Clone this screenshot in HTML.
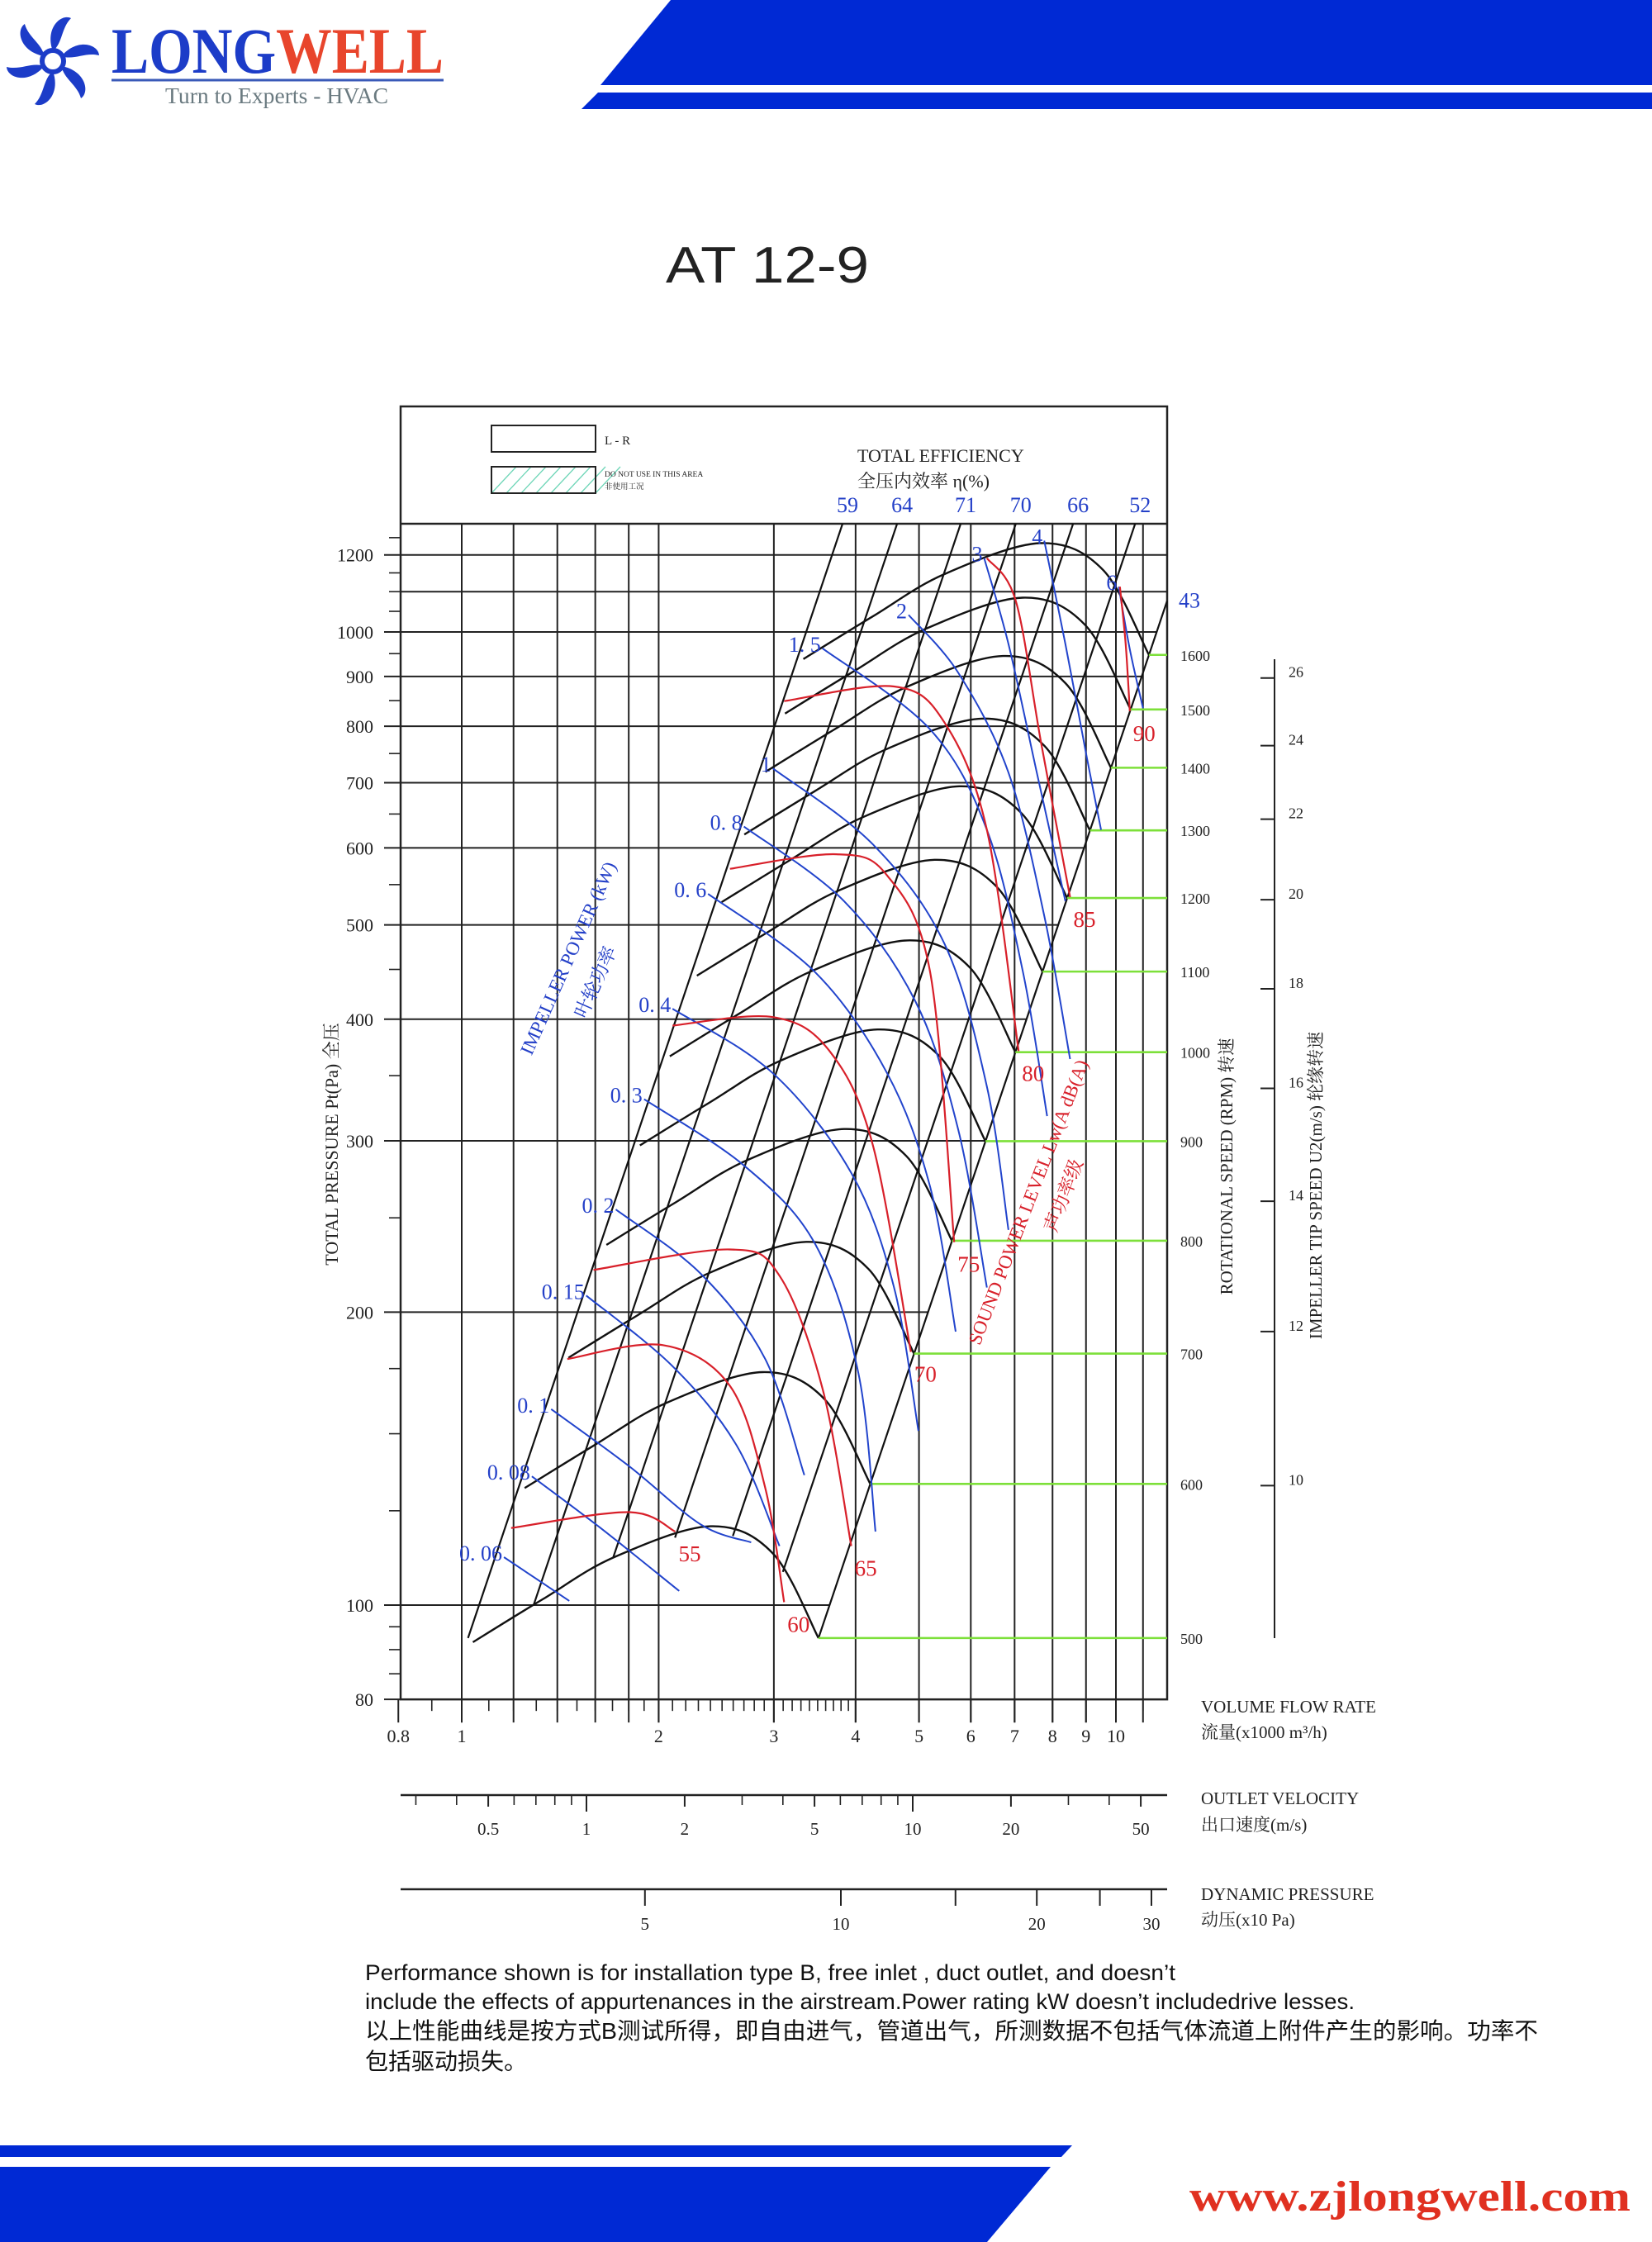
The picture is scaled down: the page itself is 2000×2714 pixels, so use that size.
<!DOCTYPE html>
<html><head><meta charset="utf-8"><title>AT 12-9</title>
<style>
html,body{margin:0;padding:0;background:#fff;}
svg{display:block;}
.ser{font-family:"Liberation Serif","Noto Serif CJK SC",serif;}
.san{font-family:"Liberation Sans","Noto Sans CJK SC",sans-serif;}
</style></head>
<body>
<svg id="page" xmlns="http://www.w3.org/2000/svg" width="2000" height="2714" viewBox="0 0 2000 2714">
  <!-- header -->
  <g>
    <polygon points="812,0 2000,0 2000,103 727,103" fill="#0029d4"/>
    <polygon points="724,112 2000,112 2000,132 704,132" fill="#0029d4"/>
    <g transform="translate(64,74)">
      <g fill="#1c3cc8">
        <path d="M0,-12 C-10,-40 10,-58 22,-52 C10,-40 12,-22 0,-12Z" transform="rotate(0)"/>
        <path d="M0,-12 C-10,-40 10,-58 22,-52 C10,-40 12,-22 0,-12Z" transform="rotate(60)"/>
        <path d="M0,-12 C-10,-40 10,-58 22,-52 C10,-40 12,-22 0,-12Z" transform="rotate(120)"/>
        <path d="M0,-12 C-10,-40 10,-58 22,-52 C10,-40 12,-22 0,-12Z" transform="rotate(180)"/>
        <path d="M0,-12 C-10,-40 10,-58 22,-52 C10,-40 12,-22 0,-12Z" transform="rotate(240)"/>
        <path d="M0,-12 C-10,-40 10,-58 22,-52 C10,-40 12,-22 0,-12Z" transform="rotate(300)"/>
        <circle r="13" fill="none" stroke="#1c3cc8" stroke-width="6"/>
      </g>
    </g>
    <text x="135" y="88" class="ser" font-size="78" font-weight="bold" textLength="402" lengthAdjust="spacingAndGlyphs"><tspan fill="#1c3cc8">LONG</tspan><tspan fill="#e8452c">WELL</tspan></text>
    <line x1="135" y1="97" x2="537" y2="97" stroke="#3a5ab8" stroke-width="3"/>
    <text x="200" y="125" class="ser" font-size="27" fill="#6a7a80" textLength="270" lengthAdjust="spacingAndGlyphs">Turn to Experts - HVAC</text>
  </g>
  <text x="806" y="342" class="san" font-size="62" fill="#222" textLength="246" lengthAdjust="spacingAndGlyphs">AT  12-9</text>

  <g id="chart"></g>

  <!-- footnote -->
  <g fill="#111">
    <text x="442" y="2397" class="san" font-size="27" textLength="981" lengthAdjust="spacingAndGlyphs">Performance shown is for installation type B, free inlet , duct outlet, and doesn’t</text>
    <text x="442" y="2432" class="san" font-size="27" textLength="1198" lengthAdjust="spacingAndGlyphs">include the effects of appurtenances in the airstream.Power rating kW doesn’t includedrive lesses.</text>
    <text x="442" y="2468" font-family="'Liberation Sans','Noto Sans CJK SC',sans-serif" font-size="28" textLength="1420" lengthAdjust="spacingAndGlyphs">以上性能曲线是按方式B测试所得，即自由进气，管道出气，所测数据不包括气体流道上附件产生的影响。功率不</text>
    <text x="442" y="2505" font-family="'Liberation Sans','Noto Sans CJK SC',sans-serif" font-size="28">包括驱动损失。</text>
  </g>
  <!-- footer -->
  <g>
    <polygon points="0,2597 1298,2597 1285,2611 0,2611" fill="#0029d4"/>
    <polygon points="0,2623 1272,2623 1195,2714 0,2714" fill="#0029d4"/>
    <text x="1440" y="2676" class="ser" font-size="52" font-weight="bold" fill="#e03020" textLength="534" lengthAdjust="spacingAndGlyphs">www.zjlongwell.com</text>
  </g>
</svg>
<script>
// ---- data ----
const baseFlow = [1.04, 1.33, 1.71, 2.40, 2.99, 3.51];      // 500 rpm curve, x1000 m3/h
const basePress = [91.6, 101.4, 112, 120.5, 113, 92.5];      // Pa
const baseSpeed = 500;
const speeds = [500,600,700,800,900,1000,1100,1200,1300,1400,1500,1600];
const sysQ100 = [1.063, 1.288, 1.611, 1.956, 2.393, 2.977, 3.65];
const effLabels = ['59','64','71','70','66','52','43'];
const hGrid = [100,200,300,400,500,600,700,800,900,1000,1100,1200];
const yLabels = [80,100,200,300,400,500,600,700,800,900,1000,1200];
const yMinor = [85,90,95,125,150,175,250,350,450,550,650,750,850,950,1050,1100,1150,1250];
const vGrid = [1,1.2,1.4,1.6,1.8,2,3,4,5,6,7,8,9,10,11];
const xLabels = [0.8,1,2,3,4,5,6,7,8,9,10];
const xMinor = [0.9,1.1,1.2,1.3,1.4,1.5,1.6,1.7,1.8,1.9,2.1,2.2,2.3,2.4,2.5,2.6,2.7,2.8,2.9,3.1,3.2,3.3,3.4,3.5,3.6,3.7,3.8,3.9,11];
const powerLabels = ['0. 06','0. 08','0. 1','0. 15','0. 2','0. 3','0. 4','0. 6','0. 8','1','1. 5','2','3','4','6'];
const powerFlows = [
 [1.16,1.46],[1.28,1.63,2.15],[1.37,1.80,2.32,2.77],[1.55,2.10,2.63,3.06],[1.72,2.32,2.91,3.34],
 [1.90,2.70,3.47,4.04,4.29],[2.10,2.99,3.94,4.58,4.99],[2.38,3.47,4.47,5.20,5.69],[2.70,3.84,4.94,5.74,6.35],
 [2.99,4.25,5.47,6.35,6.85],[3.56,5.20,6.35,7.21,7.85],[4.82,5.74,6.85,7.77,8.51],[6.29,6.85,7.57,8.37],
 [7.77,8.37,9.03,9.49],[10.1,10.5,11.0]];
const powerPress = [
 [112,101],[135.6,120,103.4],[159,139,121,116],[208,176,146,115],[255,219,179,136],
 [331,283,235,173,119],[410,352,278,212,151],[538,447,352,269,191],[631,529,417,308,212],
 [724,605,478,341,243],[962,794,626,447,318],[1041,908,717,511,364],[1191,972,717,529],
 [1241,972,742,626],[1113,960,835]];
const soundLabels = ['55','60','65','70','75','80','85','90'];
const soundFlows = [
 [1.19,1.80,2.12],[1.45,2.03,2.57,2.91,3.11],[1.59,2.57,3.06,3.56,3.94],[2.10,2.99,3.65,4.25,4.86],
 [2.57,3.74,4.47,5.20,5.66],[3.11,4.58,5.47,6.35,7.10],[6.35,7.03,7.69,8.51],[10.14,10.35,10.5]];
const soundPress = [
 [120,124.6,119],[179,185,168,132,100.7],[221,232,218,167,115],[394,402,371,297,182],
 [571,591,562,447,236],[849,879,807,626,371],[1191,1076,767,534],[1113,972,829]];
const tipTicks = [10,12,14,16,18,20,22,24,26];
const tipRef = 8.35;   // tip speed at 500 rpm right-end point (m/s)
const velMajor = [0.5,1,2,5,10,20,50];
const velMinor = [0.3,0.4,0.6,0.7,0.8,0.9,3,4,6,7,8,9,30,40];
const dpTicks = [5,10,15,20,25,30];
const dpLabels = [5,10,20,30];

// ---- scales ----
const L=485, R=1413, T=492, HDR=634;
const xs = q => 559 + 792*Math.log10(q);
const ys = p => 1943 - 1178*Math.log10(p/100);
const B = ys(80);
const xv = v => 710 + 395*Math.log10(v);
const xd = d => 1018 + 788*Math.log10(d/10);
const NS='http://www.w3.org/2000/svg';
const chart=document.getElementById('chart');
function mk(tag, attrs, parent){const e=document.createElementNS(NS,tag);for(const k in attrs)e.setAttribute(k,attrs[k]);(parent||chart).appendChild(e);return e;}
function txt(s,attrs,parent){const e=mk('text',attrs,parent);e.textContent=s;return e;}
function smooth(pts){let d='M'+pts[0][0].toFixed(1)+','+pts[0][1].toFixed(1);
 for(let i=0;i<pts.length-1;i++){const p0=pts[i-1]||pts[i],p1=pts[i],p2=pts[i+1],p3=pts[i+2]||p2;
  d+=' C'+(p1[0]+(p2[0]-p0[0])/6).toFixed(1)+','+(p1[1]+(p2[1]-p0[1])/6).toFixed(1)+' '+(p2[0]-(p3[0]-p1[0])/6).toFixed(1)+','+(p2[1]-(p3[1]-p1[1])/6).toFixed(1)+' '+p2[0].toFixed(1)+','+p2[1].toFixed(1);}
 return d;}
const SER='"Liberation Serif","Noto Serif CJK SC",serif';

// frame
let e=mk('rect',{x:L,y:T,width:R-L,height:B-T,fill:'none',stroke:'#222','stroke-width':2.5});


e=mk('line',{x1:L,y1:HDR,x2:R,y2:HDR,stroke:'#222','stroke-width':2.5});



// legend
e=mk('rect',{x:595,y:515,width:126,height:32,fill:'none',stroke:'#222','stroke-width':2});


e=txt('L - R',{x:732,y:538,'font-family':SER,'font-size':15,fill:'#222'});


const hg=mk('g',{});


for(let i=0;i<8;i++){mk('line',{x1:595+i*18,y1:597,x2:595+i*18+30,y2:565,stroke:'#6fd6b8','stroke-width':1.3},hg);}
mk('rect',{x:595,y:565,width:126,height:32,fill:'none',stroke:'#222','stroke-width':2},hg);
e=txt('DO NOT USE IN THIS AREA',{x:732,y:577,'font-family':SER,'font-size':9.5,fill:'#222'});


e=txt('非使用工况',{x:732,y:592,'font-family':SER,'font-size':9.5,fill:'#222'});


e=txt('TOTAL EFFICIENCY',{x:1038,y:559,'font-family':SER,'font-size':22,fill:'#222'});


e=txt('全压内效率  η(%)',{x:1038,y:590,'font-family':SER,'font-size':22,fill:'#222'});



// right boundary helper
const rbQ = sysQ100[sysQ100.length-1];
function rightEdgeX(p){return Math.min(R, xs(rbQ*Math.sqrt(p/100)));}

// horizontal grid
hGrid.forEach(p=>{const l=mk('line',{x1:L,y1:ys(p),x2:rightEdgeX(p),y2:ys(p),stroke:'#222','stroke-width':2});
 
 });
// vertical grid
vGrid.forEach(q=>{const l=mk('line',{x1:xs(q),y1:HDR,x2:xs(q),y2:B+28,stroke:'#222','stroke-width':2});
 
 });
// y labels & ticks
yLabels.forEach(p=>{const t=txt(String(p),{x:452,y:ys(p)+8,'text-anchor':'end','font-family':SER,'font-size':22,fill:'#222'});
 
 
 const k=mk('line',{x1:L-20,y1:ys(p),x2:L,y2:ys(p),stroke:'#222','stroke-width':2});
 
 });
yMinor.forEach(p=>{const k=mk('line',{x1:L-14,y1:ys(p),x2:L,y2:ys(p),stroke:'#222','stroke-width':1.6});
 
 });
// x labels & ticks
xLabels.forEach(q=>{const t=txt(String(q),{x:xs(q),y:2109,'text-anchor':'middle','font-family':SER,'font-size':22,fill:'#222'});
 
 
 const k=mk('line',{x1:xs(q),y1:B,x2:xs(q),y2:B+28,stroke:'#222','stroke-width':2});
 
 });
xMinor.forEach(q=>{const k=mk('line',{x1:xs(q),y1:B,x2:xs(q),y2:B+14,stroke:'#222','stroke-width':1.6});
 
 });

// base curve intersection for system lines (log space)
const bu=baseFlow.map(Math.log10), bv=basePress.map(Math.log10);
function bottomP(q100){const c=Math.log10(q100)-1; // u = c + 0.5 v
 for(let i=0;i<bu.length-1;i++){const f0=bu[i]-(c+0.5*bv[i]), f1=bu[i+1]-(c+0.5*bv[i+1]);
  if(f0===0)return Math.pow(10,bv[i]); if(f0*f1<0){const t=f0/(f0-f1);return Math.pow(10,bv[i]+t*(bv[i+1]-bv[i]));}}
 return Math.pow(10,bv[bv.length-1]);}
const pHdr = 100*Math.pow(10,(1943-HDR)/1178);
sysQ100.forEach((q,i)=>{const p0=bottomP(q); let p1=pHdr; const qTop=q*Math.sqrt(p1/100); let x1=xs(qTop);
 if(x1>R){x1=R; const qR=Math.pow(10,(R-559)/792); p1=100*(qR/q)*(qR/q);}
 const l=mk('line',{x1:xs(q*Math.sqrt(p0/100)),y1:ys(p0),x2:x1,y2:ys(p1),stroke:'#111','stroke-width':2.2});
 
 
 let lx, ly;
 if(x1>=R){lx=R+14; ly=ys(p1)+8; } else {lx=x1+6; ly=HDR-14;}
 const t=txt(effLabels[i],{x:lx,y:ly,'text-anchor':x1>=R?'start':'middle','font-family':SER,'font-size':26,fill:'#2440c8'});
 
 });

// fan curves + green speed lines + rpm labels
speeds.forEach(n=>{const f=n/baseSpeed;
 const pts=baseFlow.map((q,i)=>[xs(q*f),ys(basePress[i]*f*f)]);
 const c=mk('path',{d:smooth(pts),fill:'none',stroke:'#111','stroke-width':2.4});
 
 
 const end=pts[pts.length-1];
 const g=mk('line',{x1:end[0],y1:end[1],x2:R,y2:end[1],stroke:'#7de03a','stroke-width':2.6});
 
 
 const t=txt(String(n),{x:1429,y:end[1]+7,'font-family':SER,'font-size':18,fill:'#222'});
 
 });

// power lines (blue)
powerLabels.forEach((lab,i)=>{const pts=powerFlows[i].map((q,j)=>[xs(q),ys(powerPress[i][j])]);
 const c=mk('path',{d:smooth(pts),fill:'none',stroke:'#2244cc','stroke-width':2});
 
 
 const t=txt(lab,{x:pts[0][0]-2,y:pts[0][1]+4,'text-anchor':'end','font-family':SER,'font-size':26,fill:'#2440c8'});
 
 });
// sound lines (red)
soundLabels.forEach((lab,i)=>{const pts=soundFlows[i].map((q,j)=>[xs(q),ys(soundPress[i][j])]);
 const c=mk('path',{d:smooth(pts),fill:'none',stroke:'#d8202a','stroke-width':2.2});
 
 
 const end=pts[pts.length-1];
 const t=txt(lab,{x:end[0]+4,y:end[1]+36,'font-family':SER,'font-size':27,fill:'#d8202a'});
 
 });

// rotated axis titles
function rot(s,x,y,a,size,fill,name){const t=txt(s,{x:x,y:y,'text-anchor':'middle','font-family':SER,'font-size':size,fill:fill,transform:`rotate(${a} ${x} ${y})`});
 
 }
rot('TOTAL PRESSURE Pt(Pa)   全压',409,1385,-90,22,'#222','y-axis-title');
rot('IMPELLER POWER (kW)',695,1163,-66,23,'#2440c8','power-axis-title');
rot('叶轮功率',728,1192,-66,23,'#2440c8','power-axis-title-cn');
rot('SOUND POWER LEVEL Lw(A dB(A)',1252,1458,-69,23,'#d8202a','sound-axis-title');
rot('声功率级',1295,1450,-69,23,'#d8202a','sound-axis-title-cn');
rot('ROTATIONAL SPEED (RPM)  转速',1492,1412,-90,21,'#222','rpm-axis-title');
rot('IMPELLER TIP SPEED U2(m/s)  轮缘转速',1600,1435,-90,21,'#222','tip-speed-axis-title');

// tip speed axis
const ut = u => ys(92.5*(u/tipRef)*(u/tipRef));
e=mk('line',{x1:1543,y1:798,x2:1543,y2:1983,stroke:'#222','stroke-width':2});


tipTicks.forEach(u=>{const k=mk('line',{x1:1526,y1:ut(u),x2:1543,y2:ut(u),stroke:'#222','stroke-width':2});
 
 
 const t=txt(String(u),{x:1560,y:ut(u)-1,'font-family':SER,'font-size':18,fill:'#222'});
 
 });

// lower axes
e=txt('VOLUME FLOW RATE',{x:1454,y:2073,'font-family':SER,'font-size':21,fill:'#222'});


e=txt('流量(x1000 m³/h)',{x:1454,y:2104,'font-family':SER,'font-size':21,fill:'#222'});


e=mk('line',{x1:L,y1:2173,x2:R,y2:2173,stroke:'#222','stroke-width':2.5});


velMajor.forEach(v=>{const long=(v===1||v===10);
 const k=mk('line',{x1:xv(v),y1:2173,x2:xv(v),y2:2173+(long?20:14),stroke:'#222','stroke-width':2});
 
 
 const t=txt(String(v),{x:xv(v),y:2221,'text-anchor':'middle','font-family':SER,'font-size':21,fill:'#222'});
 
 });
velMinor.forEach(v=>{const k=mk('line',{x1:xv(v),y1:2173,x2:xv(v),y2:2185,stroke:'#222','stroke-width':1.6});
 
 });
e=txt('OUTLET VELOCITY',{x:1454,y:2184,'font-family':SER,'font-size':21,fill:'#222'});


e=txt('出口速度(m/s)',{x:1454,y:2216,'font-family':SER,'font-size':21,fill:'#222'});


e=mk('line',{x1:L,y1:2287,x2:R,y2:2287,stroke:'#222','stroke-width':2.5});


dpTicks.forEach(d=>{const k=mk('line',{x1:xd(d),y1:2287,x2:xd(d),y2:2307,stroke:'#222','stroke-width':2});
 
 });
dpLabels.forEach(d=>{const t=txt(String(d),{x:xd(d),y:2336,'text-anchor':'middle','font-family':SER,'font-size':21,fill:'#222'});
 
 });
e=txt('DYNAMIC PRESSURE',{x:1454,y:2300,'font-family':SER,'font-size':21,fill:'#222'});


e=txt('动压(x10 Pa)',{x:1454,y:2331,'font-family':SER,'font-size':21,fill:'#222'});


</script>
</body></html>
